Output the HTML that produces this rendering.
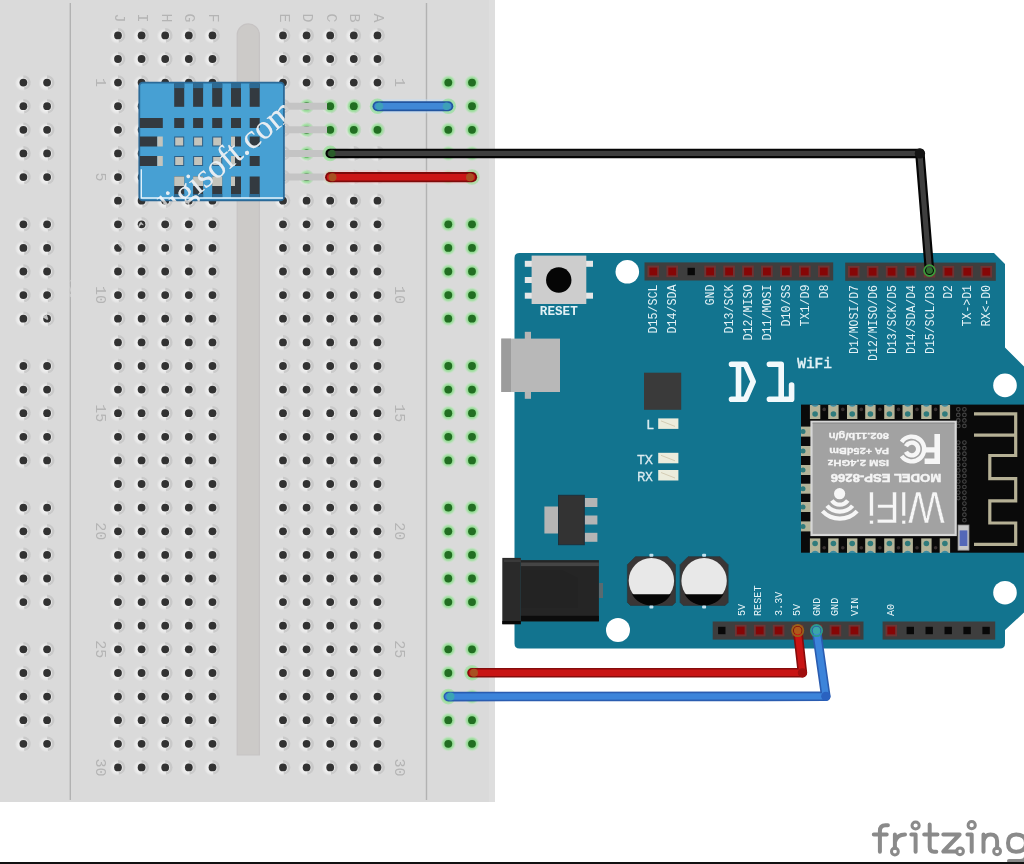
<!DOCTYPE html><html><head><meta charset="utf-8"><title>Fritzing D1 DHT11</title><style>
html,body{margin:0;padding:0;background:#ffffff;}
svg{display:block;}
.lb{font-family:"Liberation Mono",monospace;font-size:15px;fill:#b4b4b4;}
.mono{font-family:"Liberation Mono",monospace;fill:#e4f2f6;}
.sans{font-family:"Liberation Sans",sans-serif;fill:#dcecf0;}
.sansb{font-family:"Liberation Sans",sans-serif;font-weight:bold;fill:#f4f4f4;}
</style></head><body><svg width="1024" height="864" viewBox="0 0 1024 864"><defs>
<radialGradient id="hg" cx="0.45" cy="0.54" r="0.5">
<stop offset="0.4" stop-color="#f2f2f2" stop-opacity="1"/>
<stop offset="0.7" stop-color="#eaeaea" stop-opacity="0.75"/>
<stop offset="1" stop-color="#dadada" stop-opacity="0"/>
</radialGradient>
<radialGradient id="ggr" cx="0.5" cy="0.5" r="0.5">
<stop offset="0.4" stop-color="#7fd67f" stop-opacity="1"/>
<stop offset="0.7" stop-color="#a8dfa8" stop-opacity="0.9"/>
<stop offset="1" stop-color="#d0e8d0" stop-opacity="0"/>
</radialGradient>
<g id="h">
<circle cx="0" cy="0" r="8.6" fill="url(#hg)"/>
<path d="M0 -6 A6 6 0 0 1 0.8 5.95" fill="none" stroke="#c6c6c6" stroke-width="2.6" opacity="0.9"/>
<circle cx="0" cy="0" r="3.9" fill="#323232"/>
</g>
<g id="gh">
<circle cx="0" cy="0" r="8.2" fill="url(#ggr)"/>
<circle cx="0" cy="0" r="3.9" fill="#226e22"/>
</g>
</defs><rect width="1024" height="864" fill="#ffffff"/><rect x="0" y="0" width="495" height="802" fill="#dadada"/>
<rect x="489" y="0" width="6" height="802" fill="#dedede"/>
<line x1="70.3" y1="3" x2="70.3" y2="800" stroke="#b2b2b2" stroke-width="1.4"/>
<line x1="426.5" y1="3" x2="426.5" y2="800" stroke="#b2b2b2" stroke-width="1.4"/>
<path d="M237.2 755 V35 A11.1 11.1 0 0 1 259.4 35 V755 Z" fill="#cccac8" stroke="#c6c3c3" stroke-width="1.2"/>
<use href="#h" x="118.0" y="35.4"/>
<use href="#h" x="141.6" y="35.4"/>
<use href="#h" x="165.2" y="35.4"/>
<use href="#h" x="188.8" y="35.4"/>
<use href="#h" x="212.5" y="35.4"/>
<use href="#h" x="283.0" y="35.4"/>
<use href="#h" x="306.6" y="35.4"/>
<use href="#h" x="330.2" y="35.4"/>
<use href="#h" x="353.8" y="35.4"/>
<use href="#h" x="377.5" y="35.4"/>
<use href="#h" x="118.0" y="59.0"/>
<use href="#h" x="141.6" y="59.0"/>
<use href="#h" x="165.2" y="59.0"/>
<use href="#h" x="188.8" y="59.0"/>
<use href="#h" x="212.5" y="59.0"/>
<use href="#h" x="283.0" y="59.0"/>
<use href="#h" x="306.6" y="59.0"/>
<use href="#h" x="330.2" y="59.0"/>
<use href="#h" x="353.8" y="59.0"/>
<use href="#h" x="377.5" y="59.0"/>
<use href="#h" x="118.0" y="82.6"/>
<use href="#h" x="141.6" y="82.6"/>
<use href="#h" x="165.2" y="82.6"/>
<use href="#h" x="188.8" y="82.6"/>
<use href="#h" x="212.5" y="82.6"/>
<use href="#h" x="283.0" y="82.6"/>
<use href="#h" x="306.6" y="82.6"/>
<use href="#h" x="330.2" y="82.6"/>
<use href="#h" x="353.8" y="82.6"/>
<use href="#h" x="377.5" y="82.6"/>
<use href="#h" x="118.0" y="106.2"/>
<use href="#h" x="141.6" y="106.2"/>
<use href="#h" x="165.2" y="106.2"/>
<use href="#h" x="188.8" y="106.2"/>
<use href="#h" x="212.5" y="106.2"/>
<use href="#h" x="283.0" y="106.2"/>
<use href="#h" x="306.6" y="106.2"/>
<use href="#h" x="330.2" y="106.2"/>
<use href="#h" x="353.8" y="106.2"/>
<use href="#h" x="377.5" y="106.2"/>
<use href="#h" x="118.0" y="129.8"/>
<use href="#h" x="141.6" y="129.8"/>
<use href="#h" x="165.2" y="129.8"/>
<use href="#h" x="188.8" y="129.8"/>
<use href="#h" x="212.5" y="129.8"/>
<use href="#h" x="283.0" y="129.8"/>
<use href="#h" x="306.6" y="129.8"/>
<use href="#h" x="330.2" y="129.8"/>
<use href="#h" x="353.8" y="129.8"/>
<use href="#h" x="377.5" y="129.8"/>
<use href="#h" x="118.0" y="153.4"/>
<use href="#h" x="141.6" y="153.4"/>
<use href="#h" x="165.2" y="153.4"/>
<use href="#h" x="188.8" y="153.4"/>
<use href="#h" x="212.5" y="153.4"/>
<use href="#h" x="283.0" y="153.4"/>
<use href="#h" x="306.6" y="153.4"/>
<use href="#h" x="330.2" y="153.4"/>
<use href="#h" x="353.8" y="153.4"/>
<use href="#h" x="377.5" y="153.4"/>
<use href="#h" x="118.0" y="177.1"/>
<use href="#h" x="141.6" y="177.1"/>
<use href="#h" x="165.2" y="177.1"/>
<use href="#h" x="188.8" y="177.1"/>
<use href="#h" x="212.5" y="177.1"/>
<use href="#h" x="283.0" y="177.1"/>
<use href="#h" x="306.6" y="177.1"/>
<use href="#h" x="330.2" y="177.1"/>
<use href="#h" x="353.8" y="177.1"/>
<use href="#h" x="377.5" y="177.1"/>
<use href="#h" x="118.0" y="200.7"/>
<use href="#h" x="141.6" y="200.7"/>
<use href="#h" x="165.2" y="200.7"/>
<use href="#h" x="188.8" y="200.7"/>
<use href="#h" x="212.5" y="200.7"/>
<use href="#h" x="283.0" y="200.7"/>
<use href="#h" x="306.6" y="200.7"/>
<use href="#h" x="330.2" y="200.7"/>
<use href="#h" x="353.8" y="200.7"/>
<use href="#h" x="377.5" y="200.7"/>
<use href="#h" x="118.0" y="224.3"/>
<use href="#h" x="141.6" y="224.3"/>
<use href="#h" x="165.2" y="224.3"/>
<use href="#h" x="188.8" y="224.3"/>
<use href="#h" x="212.5" y="224.3"/>
<use href="#h" x="283.0" y="224.3"/>
<use href="#h" x="306.6" y="224.3"/>
<use href="#h" x="330.2" y="224.3"/>
<use href="#h" x="353.8" y="224.3"/>
<use href="#h" x="377.5" y="224.3"/>
<use href="#h" x="118.0" y="247.9"/>
<use href="#h" x="141.6" y="247.9"/>
<use href="#h" x="165.2" y="247.9"/>
<use href="#h" x="188.8" y="247.9"/>
<use href="#h" x="212.5" y="247.9"/>
<use href="#h" x="283.0" y="247.9"/>
<use href="#h" x="306.6" y="247.9"/>
<use href="#h" x="330.2" y="247.9"/>
<use href="#h" x="353.8" y="247.9"/>
<use href="#h" x="377.5" y="247.9"/>
<use href="#h" x="118.0" y="271.5"/>
<use href="#h" x="141.6" y="271.5"/>
<use href="#h" x="165.2" y="271.5"/>
<use href="#h" x="188.8" y="271.5"/>
<use href="#h" x="212.5" y="271.5"/>
<use href="#h" x="283.0" y="271.5"/>
<use href="#h" x="306.6" y="271.5"/>
<use href="#h" x="330.2" y="271.5"/>
<use href="#h" x="353.8" y="271.5"/>
<use href="#h" x="377.5" y="271.5"/>
<use href="#h" x="118.0" y="295.1"/>
<use href="#h" x="141.6" y="295.1"/>
<use href="#h" x="165.2" y="295.1"/>
<use href="#h" x="188.8" y="295.1"/>
<use href="#h" x="212.5" y="295.1"/>
<use href="#h" x="283.0" y="295.1"/>
<use href="#h" x="306.6" y="295.1"/>
<use href="#h" x="330.2" y="295.1"/>
<use href="#h" x="353.8" y="295.1"/>
<use href="#h" x="377.5" y="295.1"/>
<use href="#h" x="118.0" y="318.7"/>
<use href="#h" x="141.6" y="318.7"/>
<use href="#h" x="165.2" y="318.7"/>
<use href="#h" x="188.8" y="318.7"/>
<use href="#h" x="212.5" y="318.7"/>
<use href="#h" x="283.0" y="318.7"/>
<use href="#h" x="306.6" y="318.7"/>
<use href="#h" x="330.2" y="318.7"/>
<use href="#h" x="353.8" y="318.7"/>
<use href="#h" x="377.5" y="318.7"/>
<use href="#h" x="118.0" y="342.4"/>
<use href="#h" x="141.6" y="342.4"/>
<use href="#h" x="165.2" y="342.4"/>
<use href="#h" x="188.8" y="342.4"/>
<use href="#h" x="212.5" y="342.4"/>
<use href="#h" x="283.0" y="342.4"/>
<use href="#h" x="306.6" y="342.4"/>
<use href="#h" x="330.2" y="342.4"/>
<use href="#h" x="353.8" y="342.4"/>
<use href="#h" x="377.5" y="342.4"/>
<use href="#h" x="118.0" y="366.0"/>
<use href="#h" x="141.6" y="366.0"/>
<use href="#h" x="165.2" y="366.0"/>
<use href="#h" x="188.8" y="366.0"/>
<use href="#h" x="212.5" y="366.0"/>
<use href="#h" x="283.0" y="366.0"/>
<use href="#h" x="306.6" y="366.0"/>
<use href="#h" x="330.2" y="366.0"/>
<use href="#h" x="353.8" y="366.0"/>
<use href="#h" x="377.5" y="366.0"/>
<use href="#h" x="118.0" y="389.6"/>
<use href="#h" x="141.6" y="389.6"/>
<use href="#h" x="165.2" y="389.6"/>
<use href="#h" x="188.8" y="389.6"/>
<use href="#h" x="212.5" y="389.6"/>
<use href="#h" x="283.0" y="389.6"/>
<use href="#h" x="306.6" y="389.6"/>
<use href="#h" x="330.2" y="389.6"/>
<use href="#h" x="353.8" y="389.6"/>
<use href="#h" x="377.5" y="389.6"/>
<use href="#h" x="118.0" y="413.2"/>
<use href="#h" x="141.6" y="413.2"/>
<use href="#h" x="165.2" y="413.2"/>
<use href="#h" x="188.8" y="413.2"/>
<use href="#h" x="212.5" y="413.2"/>
<use href="#h" x="283.0" y="413.2"/>
<use href="#h" x="306.6" y="413.2"/>
<use href="#h" x="330.2" y="413.2"/>
<use href="#h" x="353.8" y="413.2"/>
<use href="#h" x="377.5" y="413.2"/>
<use href="#h" x="118.0" y="436.8"/>
<use href="#h" x="141.6" y="436.8"/>
<use href="#h" x="165.2" y="436.8"/>
<use href="#h" x="188.8" y="436.8"/>
<use href="#h" x="212.5" y="436.8"/>
<use href="#h" x="283.0" y="436.8"/>
<use href="#h" x="306.6" y="436.8"/>
<use href="#h" x="330.2" y="436.8"/>
<use href="#h" x="353.8" y="436.8"/>
<use href="#h" x="377.5" y="436.8"/>
<use href="#h" x="118.0" y="460.4"/>
<use href="#h" x="141.6" y="460.4"/>
<use href="#h" x="165.2" y="460.4"/>
<use href="#h" x="188.8" y="460.4"/>
<use href="#h" x="212.5" y="460.4"/>
<use href="#h" x="283.0" y="460.4"/>
<use href="#h" x="306.6" y="460.4"/>
<use href="#h" x="330.2" y="460.4"/>
<use href="#h" x="353.8" y="460.4"/>
<use href="#h" x="377.5" y="460.4"/>
<use href="#h" x="118.0" y="484.0"/>
<use href="#h" x="141.6" y="484.0"/>
<use href="#h" x="165.2" y="484.0"/>
<use href="#h" x="188.8" y="484.0"/>
<use href="#h" x="212.5" y="484.0"/>
<use href="#h" x="283.0" y="484.0"/>
<use href="#h" x="306.6" y="484.0"/>
<use href="#h" x="330.2" y="484.0"/>
<use href="#h" x="353.8" y="484.0"/>
<use href="#h" x="377.5" y="484.0"/>
<use href="#h" x="118.0" y="507.7"/>
<use href="#h" x="141.6" y="507.7"/>
<use href="#h" x="165.2" y="507.7"/>
<use href="#h" x="188.8" y="507.7"/>
<use href="#h" x="212.5" y="507.7"/>
<use href="#h" x="283.0" y="507.7"/>
<use href="#h" x="306.6" y="507.7"/>
<use href="#h" x="330.2" y="507.7"/>
<use href="#h" x="353.8" y="507.7"/>
<use href="#h" x="377.5" y="507.7"/>
<use href="#h" x="118.0" y="531.3"/>
<use href="#h" x="141.6" y="531.3"/>
<use href="#h" x="165.2" y="531.3"/>
<use href="#h" x="188.8" y="531.3"/>
<use href="#h" x="212.5" y="531.3"/>
<use href="#h" x="283.0" y="531.3"/>
<use href="#h" x="306.6" y="531.3"/>
<use href="#h" x="330.2" y="531.3"/>
<use href="#h" x="353.8" y="531.3"/>
<use href="#h" x="377.5" y="531.3"/>
<use href="#h" x="118.0" y="554.9"/>
<use href="#h" x="141.6" y="554.9"/>
<use href="#h" x="165.2" y="554.9"/>
<use href="#h" x="188.8" y="554.9"/>
<use href="#h" x="212.5" y="554.9"/>
<use href="#h" x="283.0" y="554.9"/>
<use href="#h" x="306.6" y="554.9"/>
<use href="#h" x="330.2" y="554.9"/>
<use href="#h" x="353.8" y="554.9"/>
<use href="#h" x="377.5" y="554.9"/>
<use href="#h" x="118.0" y="578.5"/>
<use href="#h" x="141.6" y="578.5"/>
<use href="#h" x="165.2" y="578.5"/>
<use href="#h" x="188.8" y="578.5"/>
<use href="#h" x="212.5" y="578.5"/>
<use href="#h" x="283.0" y="578.5"/>
<use href="#h" x="306.6" y="578.5"/>
<use href="#h" x="330.2" y="578.5"/>
<use href="#h" x="353.8" y="578.5"/>
<use href="#h" x="377.5" y="578.5"/>
<use href="#h" x="118.0" y="602.1"/>
<use href="#h" x="141.6" y="602.1"/>
<use href="#h" x="165.2" y="602.1"/>
<use href="#h" x="188.8" y="602.1"/>
<use href="#h" x="212.5" y="602.1"/>
<use href="#h" x="283.0" y="602.1"/>
<use href="#h" x="306.6" y="602.1"/>
<use href="#h" x="330.2" y="602.1"/>
<use href="#h" x="353.8" y="602.1"/>
<use href="#h" x="377.5" y="602.1"/>
<use href="#h" x="118.0" y="625.7"/>
<use href="#h" x="141.6" y="625.7"/>
<use href="#h" x="165.2" y="625.7"/>
<use href="#h" x="188.8" y="625.7"/>
<use href="#h" x="212.5" y="625.7"/>
<use href="#h" x="283.0" y="625.7"/>
<use href="#h" x="306.6" y="625.7"/>
<use href="#h" x="330.2" y="625.7"/>
<use href="#h" x="353.8" y="625.7"/>
<use href="#h" x="377.5" y="625.7"/>
<use href="#h" x="118.0" y="649.3"/>
<use href="#h" x="141.6" y="649.3"/>
<use href="#h" x="165.2" y="649.3"/>
<use href="#h" x="188.8" y="649.3"/>
<use href="#h" x="212.5" y="649.3"/>
<use href="#h" x="283.0" y="649.3"/>
<use href="#h" x="306.6" y="649.3"/>
<use href="#h" x="330.2" y="649.3"/>
<use href="#h" x="353.8" y="649.3"/>
<use href="#h" x="377.5" y="649.3"/>
<use href="#h" x="118.0" y="673.0"/>
<use href="#h" x="141.6" y="673.0"/>
<use href="#h" x="165.2" y="673.0"/>
<use href="#h" x="188.8" y="673.0"/>
<use href="#h" x="212.5" y="673.0"/>
<use href="#h" x="283.0" y="673.0"/>
<use href="#h" x="306.6" y="673.0"/>
<use href="#h" x="330.2" y="673.0"/>
<use href="#h" x="353.8" y="673.0"/>
<use href="#h" x="377.5" y="673.0"/>
<use href="#h" x="118.0" y="696.6"/>
<use href="#h" x="141.6" y="696.6"/>
<use href="#h" x="165.2" y="696.6"/>
<use href="#h" x="188.8" y="696.6"/>
<use href="#h" x="212.5" y="696.6"/>
<use href="#h" x="283.0" y="696.6"/>
<use href="#h" x="306.6" y="696.6"/>
<use href="#h" x="330.2" y="696.6"/>
<use href="#h" x="353.8" y="696.6"/>
<use href="#h" x="377.5" y="696.6"/>
<use href="#h" x="118.0" y="720.2"/>
<use href="#h" x="141.6" y="720.2"/>
<use href="#h" x="165.2" y="720.2"/>
<use href="#h" x="188.8" y="720.2"/>
<use href="#h" x="212.5" y="720.2"/>
<use href="#h" x="283.0" y="720.2"/>
<use href="#h" x="306.6" y="720.2"/>
<use href="#h" x="330.2" y="720.2"/>
<use href="#h" x="353.8" y="720.2"/>
<use href="#h" x="377.5" y="720.2"/>
<use href="#h" x="118.0" y="743.8"/>
<use href="#h" x="141.6" y="743.8"/>
<use href="#h" x="165.2" y="743.8"/>
<use href="#h" x="188.8" y="743.8"/>
<use href="#h" x="212.5" y="743.8"/>
<use href="#h" x="283.0" y="743.8"/>
<use href="#h" x="306.6" y="743.8"/>
<use href="#h" x="330.2" y="743.8"/>
<use href="#h" x="353.8" y="743.8"/>
<use href="#h" x="377.5" y="743.8"/>
<use href="#h" x="118.0" y="767.4"/>
<use href="#h" x="141.6" y="767.4"/>
<use href="#h" x="165.2" y="767.4"/>
<use href="#h" x="188.8" y="767.4"/>
<use href="#h" x="212.5" y="767.4"/>
<use href="#h" x="283.0" y="767.4"/>
<use href="#h" x="306.6" y="767.4"/>
<use href="#h" x="330.2" y="767.4"/>
<use href="#h" x="353.8" y="767.4"/>
<use href="#h" x="377.5" y="767.4"/>
<use href="#h" x="23.4" y="82.6"/>
<use href="#h" x="47.1" y="82.6"/>
<use href="#gh" x="448.3" y="82.6"/>
<use href="#gh" x="472.0" y="82.6"/>
<use href="#h" x="23.4" y="106.2"/>
<use href="#h" x="47.1" y="106.2"/>
<use href="#gh" x="448.3" y="106.2"/>
<use href="#gh" x="472.0" y="106.2"/>
<use href="#h" x="23.4" y="129.8"/>
<use href="#h" x="47.1" y="129.8"/>
<use href="#gh" x="448.3" y="129.8"/>
<use href="#gh" x="472.0" y="129.8"/>
<use href="#h" x="23.4" y="153.4"/>
<use href="#h" x="47.1" y="153.4"/>
<use href="#gh" x="448.3" y="153.4"/>
<use href="#gh" x="472.0" y="153.4"/>
<use href="#h" x="23.4" y="177.1"/>
<use href="#h" x="47.1" y="177.1"/>
<use href="#gh" x="448.3" y="177.1"/>
<use href="#gh" x="472.0" y="177.1"/>
<use href="#h" x="23.4" y="224.3"/>
<use href="#h" x="47.1" y="224.3"/>
<use href="#gh" x="448.3" y="224.3"/>
<use href="#gh" x="472.0" y="224.3"/>
<use href="#h" x="23.4" y="247.9"/>
<use href="#h" x="47.1" y="247.9"/>
<use href="#gh" x="448.3" y="247.9"/>
<use href="#gh" x="472.0" y="247.9"/>
<use href="#h" x="23.4" y="271.5"/>
<use href="#h" x="47.1" y="271.5"/>
<use href="#gh" x="448.3" y="271.5"/>
<use href="#gh" x="472.0" y="271.5"/>
<use href="#h" x="23.4" y="295.1"/>
<use href="#h" x="47.1" y="295.1"/>
<use href="#gh" x="448.3" y="295.1"/>
<use href="#gh" x="472.0" y="295.1"/>
<use href="#h" x="23.4" y="318.7"/>
<use href="#h" x="47.1" y="318.7"/>
<use href="#gh" x="448.3" y="318.7"/>
<use href="#gh" x="472.0" y="318.7"/>
<use href="#h" x="23.4" y="366.0"/>
<use href="#h" x="47.1" y="366.0"/>
<use href="#gh" x="448.3" y="366.0"/>
<use href="#gh" x="472.0" y="366.0"/>
<use href="#h" x="23.4" y="389.6"/>
<use href="#h" x="47.1" y="389.6"/>
<use href="#gh" x="448.3" y="389.6"/>
<use href="#gh" x="472.0" y="389.6"/>
<use href="#h" x="23.4" y="413.2"/>
<use href="#h" x="47.1" y="413.2"/>
<use href="#gh" x="448.3" y="413.2"/>
<use href="#gh" x="472.0" y="413.2"/>
<use href="#h" x="23.4" y="436.8"/>
<use href="#h" x="47.1" y="436.8"/>
<use href="#gh" x="448.3" y="436.8"/>
<use href="#gh" x="472.0" y="436.8"/>
<use href="#h" x="23.4" y="460.4"/>
<use href="#h" x="47.1" y="460.4"/>
<use href="#gh" x="448.3" y="460.4"/>
<use href="#gh" x="472.0" y="460.4"/>
<use href="#h" x="23.4" y="507.7"/>
<use href="#h" x="47.1" y="507.7"/>
<use href="#gh" x="448.3" y="507.7"/>
<use href="#gh" x="472.0" y="507.7"/>
<use href="#h" x="23.4" y="531.3"/>
<use href="#h" x="47.1" y="531.3"/>
<use href="#gh" x="448.3" y="531.3"/>
<use href="#gh" x="472.0" y="531.3"/>
<use href="#h" x="23.4" y="554.9"/>
<use href="#h" x="47.1" y="554.9"/>
<use href="#gh" x="448.3" y="554.9"/>
<use href="#gh" x="472.0" y="554.9"/>
<use href="#h" x="23.4" y="578.5"/>
<use href="#h" x="47.1" y="578.5"/>
<use href="#gh" x="448.3" y="578.5"/>
<use href="#gh" x="472.0" y="578.5"/>
<use href="#h" x="23.4" y="602.1"/>
<use href="#h" x="47.1" y="602.1"/>
<use href="#gh" x="448.3" y="602.1"/>
<use href="#gh" x="472.0" y="602.1"/>
<use href="#h" x="23.4" y="649.3"/>
<use href="#h" x="47.1" y="649.3"/>
<use href="#gh" x="448.3" y="649.3"/>
<use href="#gh" x="472.0" y="649.3"/>
<use href="#h" x="23.4" y="673.0"/>
<use href="#h" x="47.1" y="673.0"/>
<use href="#gh" x="448.3" y="673.0"/>
<use href="#gh" x="472.0" y="673.0"/>
<use href="#h" x="23.4" y="696.6"/>
<use href="#h" x="47.1" y="696.6"/>
<use href="#gh" x="448.3" y="696.6"/>
<use href="#gh" x="472.0" y="696.6"/>
<use href="#h" x="23.4" y="720.2"/>
<use href="#h" x="47.1" y="720.2"/>
<use href="#gh" x="448.3" y="720.2"/>
<use href="#gh" x="472.0" y="720.2"/>
<use href="#h" x="23.4" y="743.8"/>
<use href="#h" x="47.1" y="743.8"/>
<use href="#gh" x="448.3" y="743.8"/>
<use href="#gh" x="472.0" y="743.8"/>
<text transform="translate(118.0 18) rotate(90)" class="lb" text-anchor="middle" dominant-baseline="central">J</text>
<text transform="translate(141.6 18) rotate(90)" class="lb" text-anchor="middle" dominant-baseline="central">I</text>
<text transform="translate(165.2 18) rotate(90)" class="lb" text-anchor="middle" dominant-baseline="central">H</text>
<text transform="translate(188.8 18) rotate(90)" class="lb" text-anchor="middle" dominant-baseline="central">G</text>
<text transform="translate(212.5 18) rotate(90)" class="lb" text-anchor="middle" dominant-baseline="central">F</text>
<text transform="translate(283.0 18) rotate(90)" class="lb" text-anchor="middle" dominant-baseline="central">E</text>
<text transform="translate(306.6 18) rotate(90)" class="lb" text-anchor="middle" dominant-baseline="central">D</text>
<text transform="translate(330.2 18) rotate(90)" class="lb" text-anchor="middle" dominant-baseline="central">C</text>
<text transform="translate(353.8 18) rotate(90)" class="lb" text-anchor="middle" dominant-baseline="central">B</text>
<text transform="translate(377.5 18) rotate(90)" class="lb" text-anchor="middle" dominant-baseline="central">A</text>
<text transform="translate(99.8 82.6) rotate(90)" class="lb" text-anchor="middle" dominant-baseline="central">1</text>
<text transform="translate(398.7 82.6) rotate(90)" class="lb" text-anchor="middle" dominant-baseline="central">1</text>
<text transform="translate(99.8 177.1) rotate(90)" class="lb" text-anchor="middle" dominant-baseline="central">5</text>
<text transform="translate(398.7 177.1) rotate(90)" class="lb" text-anchor="middle" dominant-baseline="central">5</text>
<text transform="translate(99.8 295.1) rotate(90)" class="lb" text-anchor="middle" dominant-baseline="central">10</text>
<text transform="translate(398.7 295.1) rotate(90)" class="lb" text-anchor="middle" dominant-baseline="central">10</text>
<text transform="translate(99.8 413.2) rotate(90)" class="lb" text-anchor="middle" dominant-baseline="central">15</text>
<text transform="translate(398.7 413.2) rotate(90)" class="lb" text-anchor="middle" dominant-baseline="central">15</text>
<text transform="translate(99.8 531.3) rotate(90)" class="lb" text-anchor="middle" dominant-baseline="central">20</text>
<text transform="translate(398.7 531.3) rotate(90)" class="lb" text-anchor="middle" dominant-baseline="central">20</text>
<text transform="translate(99.8 649.3) rotate(90)" class="lb" text-anchor="middle" dominant-baseline="central">25</text>
<text transform="translate(398.7 649.3) rotate(90)" class="lb" text-anchor="middle" dominant-baseline="central">25</text>
<text transform="translate(99.8 767.4) rotate(90)" class="lb" text-anchor="middle" dominant-baseline="central">30</text>
<text transform="translate(398.7 767.4) rotate(90)" class="lb" text-anchor="middle" dominant-baseline="central">30</text>
<path d="M519.5 253 H994 L1005 264 V347.5 L1030 372.5 V607 L1005 630 V643.5 Q1005 648.5 1000 648.5 H519.5 Q514.5 648.5 514.5 643.5 V258 Q514.5 253 519.5 253 Z" fill="#12748f"/>
<circle cx="627.3" cy="271.8" r="11.8" fill="#ffffff"/>
<circle cx="1005" cy="385.4" r="11.8" fill="#ffffff"/>
<circle cx="1005" cy="592.7" r="11.8" fill="#ffffff"/>
<circle cx="618" cy="630" r="12" fill="#ffffff"/>
<rect x="524.8" y="260.8" width="8" height="6" fill="#e6e6e6"/>
<rect x="524.8" y="277" width="8" height="6" fill="#e6e6e6"/>
<rect x="524.8" y="292.7" width="8" height="6" fill="#e6e6e6"/>
<rect x="585" y="260.8" width="8" height="6" fill="#e6e6e6"/>
<rect x="585" y="292.7" width="8" height="6" fill="#e6e6e6"/>
<rect x="531.6" y="255.6" width="54.7" height="48.4" fill="#cdcdcd"/>
<circle cx="558.75" cy="280" r="12.7" fill="#050505"/>
<text x="558.8" y="314.6" class="mono" font-size="12.8" font-weight="bold" text-anchor="middle" textLength="38" lengthAdjust="spacingAndGlyphs">RESET</text>
<rect x="524.8" y="331.8" width="6.2" height="67" fill="#b5b5b5"/>
<rect x="501.3" y="338.6" width="58.7" height="53.4" fill="#b8b8b8"/>
<rect x="501.3" y="338.6" width="9.7" height="53.4" fill="#9c9c9c"/>
<rect x="644.5" y="262.4" width="188.7" height="18.1" fill="#3e3e3e"/>
<rect x="647.5" y="265.6" width="11.6" height="11.6" fill="#6e3434"/>
<rect x="649.4" y="267.6" width="7.8" height="7.8" fill="#860606"/>
<rect x="666.4" y="265.6" width="11.6" height="11.6" fill="#6e3434"/>
<rect x="668.3" y="267.6" width="7.8" height="7.8" fill="#860606"/>
<rect x="687.5" y="267.8" width="7.4" height="7.4" fill="#080808"/>
<rect x="704.3" y="265.6" width="11.6" height="11.6" fill="#6e3434"/>
<rect x="706.2" y="267.6" width="7.8" height="7.8" fill="#860606"/>
<rect x="723.3" y="265.6" width="11.6" height="11.6" fill="#6e3434"/>
<rect x="725.2" y="267.6" width="7.8" height="7.8" fill="#860606"/>
<rect x="742.2" y="265.6" width="11.6" height="11.6" fill="#6e3434"/>
<rect x="744.1" y="267.6" width="7.8" height="7.8" fill="#860606"/>
<rect x="761.1" y="265.6" width="11.6" height="11.6" fill="#6e3434"/>
<rect x="763.0" y="267.6" width="7.8" height="7.8" fill="#860606"/>
<rect x="780.1" y="265.6" width="11.6" height="11.6" fill="#6e3434"/>
<rect x="782.0" y="267.6" width="7.8" height="7.8" fill="#860606"/>
<rect x="799.0" y="265.6" width="11.6" height="11.6" fill="#6e3434"/>
<rect x="800.9" y="267.6" width="7.8" height="7.8" fill="#860606"/>
<rect x="818.0" y="265.6" width="11.6" height="11.6" fill="#6e3434"/>
<rect x="819.9" y="267.6" width="7.8" height="7.8" fill="#860606"/>
<rect x="845.2" y="262.6" width="150.6" height="18.2" fill="#3e3e3e"/>
<rect x="847.9" y="265.9" width="11.6" height="11.6" fill="#6e3434"/>
<rect x="849.8" y="267.8" width="7.8" height="7.8" fill="#860606"/>
<rect x="866.8" y="265.9" width="11.6" height="11.6" fill="#6e3434"/>
<rect x="868.7" y="267.8" width="7.8" height="7.8" fill="#860606"/>
<rect x="885.8" y="265.9" width="11.6" height="11.6" fill="#6e3434"/>
<rect x="887.7" y="267.8" width="7.8" height="7.8" fill="#860606"/>
<rect x="904.7" y="265.9" width="11.6" height="11.6" fill="#6e3434"/>
<rect x="906.6" y="267.8" width="7.8" height="7.8" fill="#860606"/>
<rect x="923.7" y="265.9" width="11.6" height="11.6" fill="#6e3434"/>
<rect x="925.6" y="267.8" width="7.8" height="7.8" fill="#860606"/>
<rect x="942.6" y="265.9" width="11.6" height="11.6" fill="#6e3434"/>
<rect x="944.5" y="267.8" width="7.8" height="7.8" fill="#860606"/>
<rect x="961.5" y="265.9" width="11.6" height="11.6" fill="#6e3434"/>
<rect x="963.4" y="267.8" width="7.8" height="7.8" fill="#860606"/>
<rect x="980.5" y="265.9" width="11.6" height="11.6" fill="#6e3434"/>
<rect x="982.4" y="267.8" width="7.8" height="7.8" fill="#860606"/>
<rect x="712.7" y="621.5" width="150.8" height="18.1" fill="#3e3e3e"/>
<rect x="718.1" y="626.8" width="7.4" height="7.4" fill="#080808"/>
<rect x="734.9" y="624.8" width="11.6" height="11.6" fill="#6e3434"/>
<rect x="736.8" y="626.6" width="7.8" height="7.8" fill="#860606"/>
<rect x="753.9" y="624.8" width="11.6" height="11.6" fill="#6e3434"/>
<rect x="755.8" y="626.6" width="7.8" height="7.8" fill="#860606"/>
<rect x="772.8" y="624.8" width="11.6" height="11.6" fill="#6e3434"/>
<rect x="774.7" y="626.6" width="7.8" height="7.8" fill="#860606"/>
<rect x="791.8" y="624.8" width="11.6" height="11.6" fill="#6e3434"/>
<rect x="793.7" y="626.6" width="7.8" height="7.8" fill="#860606"/>
<rect x="810.7" y="624.8" width="11.6" height="11.6" fill="#6e3434"/>
<rect x="812.6" y="626.6" width="7.8" height="7.8" fill="#860606"/>
<rect x="829.6" y="624.8" width="11.6" height="11.6" fill="#6e3434"/>
<rect x="831.5" y="626.6" width="7.8" height="7.8" fill="#860606"/>
<rect x="848.6" y="624.8" width="11.6" height="11.6" fill="#6e3434"/>
<rect x="850.5" y="626.6" width="7.8" height="7.8" fill="#860606"/>
<rect x="882.6" y="621.5" width="112.6" height="18.1" fill="#3e3e3e"/>
<rect x="885.5" y="624.8" width="11.6" height="11.6" fill="#6e3434"/>
<rect x="887.4" y="626.6" width="7.8" height="7.8" fill="#860606"/>
<rect x="906.6" y="626.8" width="7.4" height="7.4" fill="#080808"/>
<rect x="925.5" y="626.8" width="7.4" height="7.4" fill="#080808"/>
<rect x="944.5" y="626.8" width="7.4" height="7.4" fill="#080808"/>
<rect x="963.4" y="626.8" width="7.4" height="7.4" fill="#080808"/>
<rect x="982.4" y="626.8" width="7.4" height="7.4" fill="#080808"/>
<text transform="translate(654.1 284.5) rotate(-90)" class="mono" font-size="12.5" text-anchor="end" dominant-baseline="central" textLength="49.0" lengthAdjust="spacingAndGlyphs">D15/SCL</text>
<text transform="translate(673.0 284.5) rotate(-90)" class="mono" font-size="12.5" text-anchor="end" dominant-baseline="central" textLength="49.0" lengthAdjust="spacingAndGlyphs">D14/SDA</text>
<text transform="translate(710.9 284.5) rotate(-90)" class="mono" font-size="12.5" text-anchor="end" dominant-baseline="central" textLength="21.0" lengthAdjust="spacingAndGlyphs">GND</text>
<text transform="translate(729.9 284.5) rotate(-90)" class="mono" font-size="12.5" text-anchor="end" dominant-baseline="central" textLength="49.0" lengthAdjust="spacingAndGlyphs">D13/SCK</text>
<text transform="translate(748.8 284.5) rotate(-90)" class="mono" font-size="12.5" text-anchor="end" dominant-baseline="central" textLength="56.0" lengthAdjust="spacingAndGlyphs">D12/MISO</text>
<text transform="translate(767.7 284.5) rotate(-90)" class="mono" font-size="12.5" text-anchor="end" dominant-baseline="central" textLength="56.0" lengthAdjust="spacingAndGlyphs">D11/MOSI</text>
<text transform="translate(786.7 284.5) rotate(-90)" class="mono" font-size="12.5" text-anchor="end" dominant-baseline="central" textLength="42.0" lengthAdjust="spacingAndGlyphs">D10/SS</text>
<text transform="translate(805.6 284.5) rotate(-90)" class="mono" font-size="12.5" text-anchor="end" dominant-baseline="central" textLength="42.0" lengthAdjust="spacingAndGlyphs">TX1/D9</text>
<text transform="translate(824.6 284.5) rotate(-90)" class="mono" font-size="12.5" text-anchor="end" dominant-baseline="central" textLength="14.0" lengthAdjust="spacingAndGlyphs">D8</text>
<text transform="translate(854.7 285) rotate(-90)" class="mono" font-size="12" text-anchor="end" dominant-baseline="central" textLength="69.0" lengthAdjust="spacingAndGlyphs">D1/MOSI/D7</text>
<text transform="translate(873.6 285) rotate(-90)" class="mono" font-size="12" text-anchor="end" dominant-baseline="central" textLength="75.9" lengthAdjust="spacingAndGlyphs">D12/MISO/D6</text>
<text transform="translate(892.6 285) rotate(-90)" class="mono" font-size="12" text-anchor="end" dominant-baseline="central" textLength="69.0" lengthAdjust="spacingAndGlyphs">D13/SCK/D5</text>
<text transform="translate(911.5 285) rotate(-90)" class="mono" font-size="12" text-anchor="end" dominant-baseline="central" textLength="69.0" lengthAdjust="spacingAndGlyphs">D14/SDA/D4</text>
<text transform="translate(930.5 285) rotate(-90)" class="mono" font-size="12" text-anchor="end" dominant-baseline="central" textLength="69.0" lengthAdjust="spacingAndGlyphs">D15/SCL/D3</text>
<text transform="translate(949.4 285) rotate(-90)" class="mono" font-size="12" text-anchor="end" dominant-baseline="central" textLength="13.8" lengthAdjust="spacingAndGlyphs">D2</text>
<text transform="translate(968.3 285) rotate(-90)" class="mono" font-size="12" text-anchor="end" dominant-baseline="central" textLength="41.4" lengthAdjust="spacingAndGlyphs">TX-&gt;D1</text>
<text transform="translate(987.3 285) rotate(-90)" class="mono" font-size="12" text-anchor="end" dominant-baseline="central" textLength="41.4" lengthAdjust="spacingAndGlyphs">RX&lt;-D0</text>
<text transform="translate(742.0 616) rotate(-90)" class="mono" font-size="10.5" text-anchor="start" dominant-baseline="central" textLength="12.2" lengthAdjust="spacingAndGlyphs">5V</text>
<text transform="translate(758.2 616) rotate(-90)" class="mono" font-size="10.5" text-anchor="start" dominant-baseline="central" textLength="30.5" lengthAdjust="spacingAndGlyphs">RESET</text>
<text transform="translate(778.9 616) rotate(-90)" class="mono" font-size="10.5" text-anchor="start" dominant-baseline="central" textLength="24.4" lengthAdjust="spacingAndGlyphs">3.3V</text>
<text transform="translate(797.3 616) rotate(-90)" class="mono" font-size="10.5" text-anchor="start" dominant-baseline="central" textLength="12.2" lengthAdjust="spacingAndGlyphs">5V</text>
<text transform="translate(816.7 616) rotate(-90)" class="mono" font-size="10.5" text-anchor="start" dominant-baseline="central" textLength="18.3" lengthAdjust="spacingAndGlyphs">GND</text>
<text transform="translate(835.1 616) rotate(-90)" class="mono" font-size="10.5" text-anchor="start" dominant-baseline="central" textLength="18.3" lengthAdjust="spacingAndGlyphs">GND</text>
<text transform="translate(854.5 616) rotate(-90)" class="mono" font-size="10.5" text-anchor="start" dominant-baseline="central" textLength="18.3" lengthAdjust="spacingAndGlyphs">VIN</text>
<text transform="translate(891.4 616) rotate(-90)" class="mono" font-size="10.5" text-anchor="start" dominant-baseline="central" textLength="12.2" lengthAdjust="spacingAndGlyphs">A0</text>
<rect x="644" y="372.7" width="37.2" height="37.1" fill="#3a3a3a"/>
<rect x="658.2" y="418.4" width="20.2" height="10.5" fill="#ececdc"/>
<line x1="661" y1="420.9" x2="675" y2="426.4" stroke="#d4ccb4" stroke-width="1"/>
<rect x="658.2" y="452.8" width="20.2" height="10.5" fill="#ececdc"/>
<line x1="661" y1="455.3" x2="675" y2="460.8" stroke="#d4ccb4" stroke-width="1"/>
<rect x="658.2" y="470" width="20.2" height="10.5" fill="#ececdc"/>
<line x1="661" y1="472.5" x2="675" y2="478" stroke="#d4ccb4" stroke-width="1"/>
<text x="650.2" y="428.6" class="sans" font-size="12.5" stroke="#dcecf0" stroke-width="0.4" text-anchor="middle">L</text>
<text x="645" y="463.8" class="sans" font-size="12.8" stroke="#dcecf0" stroke-width="0.4" text-anchor="middle" textLength="15.5" lengthAdjust="spacingAndGlyphs">TX</text>
<text x="645" y="481" class="sans" font-size="12.8" stroke="#dcecf0" stroke-width="0.4" text-anchor="middle" textLength="15.5" lengthAdjust="spacingAndGlyphs">RX</text>
<path d="M731.5 364.3 H745.5 L753.2 381.6 L745.5 399.2 H731.5 M738.5 364.3 V399.2" fill="none" stroke="#f2f9fb" stroke-width="5.6" stroke-linejoin="round" stroke-linecap="round"/>
<path d="M769.4 364.3 H781.2 V399.2 M769.4 399.2 H791.6 V385" fill="none" stroke="#f2f9fb" stroke-width="5.6" stroke-linejoin="round" stroke-linecap="round"/>
<text x="814.6" y="367.6" font-family="Liberation Mono" font-size="14.5" fill="#e2f2f6" stroke="#e2f2f6" stroke-width="0.5" text-anchor="middle" textLength="34.7" lengthAdjust="spacingAndGlyphs">WiFi</text>
<rect x="544.4" y="506.5" width="14.1" height="27" fill="#b5b5b5"/>
<rect x="584.3" y="498.0" width="13.1" height="9" fill="#b5b5b5"/>
<rect x="584.3" y="515.5" width="13.1" height="9" fill="#b5b5b5"/>
<rect x="584.3" y="532.8" width="13.1" height="9" fill="#b5b5b5"/>
<rect x="558.5" y="495.3" width="25.8" height="49.4" fill="#333333" stroke="#1f2f3a" stroke-width="1"/>
<rect x="599" y="583" width="4" height="15" fill="#5a6a70"/>
<rect x="520.8" y="560.1" width="78.1" height="61.2" fill="#252525"/>
<rect x="521" y="562.5" width="77.9" height="3.6" fill="#454545"/>
<path d="M521 570 H562 L578 578 V608 H521 Z" fill="#232323"/>
<rect x="520.8" y="615.8" width="78.1" height="5.5" fill="#0c0c0c"/>
<rect x="502.3" y="557.9" width="18.5" height="66.3" fill="#2a2a2a"/>
<rect x="502.3" y="621" width="18.5" height="3.2" fill="#080808"/>
<rect x="504" y="559.5" width="16.8" height="2.5" fill="#3a3a3a"/>
<path d="M635.4 556.7 H667.4 L675.4 564.7 V602.4 L672.4 605.4 H630.4 L627.4 602.4 V564.7 Z" fill="#3a3636" stroke="#2a3a40" stroke-width="0.8"/>
<circle cx="651.4" cy="580.7" r="22.7" fill="#e8e8e8"/>
<path d="M631.9 594.3 H670.9 A22.7 22.7 0 0 1 631.9 594.3 Z" fill="#050505"/>
<rect x="649.4" y="553.8" width="4" height="3" rx="1" fill="#c0e2f0"/>
<rect x="649.4" y="605.4" width="4" height="3" rx="1" fill="#c0e2f0"/>
<path d="M688.1 556.7 H720.1 L728.1 564.7 V602.4 L725.1 605.4 H683.1 L680.1 602.4 V564.7 Z" fill="#3a3636" stroke="#2a3a40" stroke-width="0.8"/>
<circle cx="704.1" cy="580.7" r="22.7" fill="#e8e8e8"/>
<path d="M684.6 594.3 H723.6 A22.7 22.7 0 0 1 684.6 594.3 Z" fill="#050505"/>
<rect x="702.1" y="553.8" width="4" height="3" rx="1" fill="#c0e2f0"/>
<rect x="702.1" y="605.4" width="4" height="3" rx="1" fill="#c0e2f0"/>
<rect x="801" y="404.6" width="230" height="148.1" fill="#0a0a0a"/>
<rect x="809.9" y="405" width="10.4" height="14.0" fill="#b3b398"/>
<circle cx="815.1" cy="414" r="2.8" fill="#2f7b7c"/>
<rect x="809.9" y="538.4" width="10.4" height="14.6" fill="#b3b398"/>
<circle cx="815.1" cy="543.5" r="2.8" fill="#2f7b7c"/>
<path d="M811.1 404.6 Q815.1 409 819.1 404.6 Z" fill="#3a8aa0"/>
<path d="M811.1 553 Q815.1 548.6 819.1 553 Z" fill="#3a8aa0"/>
<circle cx="824.2" cy="409.4" r="1.8" fill="#3a3232"/>
<circle cx="824.2" cy="547.8" r="1.8" fill="#3a3232"/>
<rect x="828.2" y="405" width="10.4" height="14.0" fill="#b3b398"/>
<circle cx="833.4" cy="414" r="2.8" fill="#2f7b7c"/>
<rect x="828.2" y="538.4" width="10.4" height="14.6" fill="#b3b398"/>
<circle cx="833.4" cy="543.5" r="2.8" fill="#2f7b7c"/>
<path d="M829.4 404.6 Q833.4 409 837.4 404.6 Z" fill="#3a8aa0"/>
<path d="M829.4 553 Q833.4 548.6 837.4 553 Z" fill="#3a8aa0"/>
<circle cx="842.8" cy="409.4" r="1.8" fill="#3a3232"/>
<circle cx="842.8" cy="547.8" r="1.8" fill="#3a3232"/>
<rect x="847.0" y="405" width="10.4" height="14.0" fill="#b3b398"/>
<circle cx="852.2" cy="414" r="2.8" fill="#2f7b7c"/>
<rect x="847.0" y="538.4" width="10.4" height="14.6" fill="#b3b398"/>
<circle cx="852.2" cy="543.5" r="2.8" fill="#2f7b7c"/>
<path d="M848.2 404.6 Q852.2 409 856.2 404.6 Z" fill="#3a8aa0"/>
<path d="M848.2 553 Q852.2 548.6 856.2 553 Z" fill="#3a8aa0"/>
<circle cx="861.3" cy="409.4" r="1.8" fill="#3a3232"/>
<circle cx="861.3" cy="547.8" r="1.8" fill="#3a3232"/>
<rect x="865.2" y="405" width="10.4" height="14.0" fill="#b3b398"/>
<circle cx="870.4" cy="414" r="2.8" fill="#2f7b7c"/>
<rect x="865.2" y="538.4" width="10.4" height="14.6" fill="#b3b398"/>
<circle cx="870.4" cy="543.5" r="2.8" fill="#2f7b7c"/>
<path d="M866.4 404.6 Q870.4 409 874.4 404.6 Z" fill="#3a8aa0"/>
<path d="M866.4 553 Q870.4 548.6 874.4 553 Z" fill="#3a8aa0"/>
<circle cx="879.9" cy="409.4" r="1.8" fill="#3a3232"/>
<circle cx="879.9" cy="547.8" r="1.8" fill="#3a3232"/>
<rect x="884.2" y="405" width="10.4" height="14.0" fill="#b3b398"/>
<circle cx="889.4" cy="414" r="2.8" fill="#2f7b7c"/>
<rect x="884.2" y="538.4" width="10.4" height="14.6" fill="#b3b398"/>
<circle cx="889.4" cy="543.5" r="2.8" fill="#2f7b7c"/>
<path d="M885.4 404.6 Q889.4 409 893.4 404.6 Z" fill="#3a8aa0"/>
<path d="M885.4 553 Q889.4 548.6 893.4 553 Z" fill="#3a8aa0"/>
<circle cx="898.5" cy="409.4" r="1.8" fill="#3a3232"/>
<circle cx="898.5" cy="547.8" r="1.8" fill="#3a3232"/>
<rect x="902.5" y="405" width="10.4" height="14.0" fill="#b3b398"/>
<circle cx="907.7" cy="414" r="2.8" fill="#2f7b7c"/>
<rect x="902.5" y="538.4" width="10.4" height="14.6" fill="#b3b398"/>
<circle cx="907.7" cy="543.5" r="2.8" fill="#2f7b7c"/>
<path d="M903.7 404.6 Q907.7 409 911.7 404.6 Z" fill="#3a8aa0"/>
<path d="M903.7 553 Q907.7 548.6 911.7 553 Z" fill="#3a8aa0"/>
<circle cx="917.0" cy="409.4" r="1.8" fill="#3a3232"/>
<circle cx="917.0" cy="547.8" r="1.8" fill="#3a3232"/>
<rect x="921.2" y="405" width="10.4" height="14.0" fill="#b3b398"/>
<circle cx="926.4" cy="414" r="2.8" fill="#2f7b7c"/>
<rect x="921.2" y="538.4" width="10.4" height="14.6" fill="#b3b398"/>
<circle cx="926.4" cy="543.5" r="2.8" fill="#2f7b7c"/>
<path d="M922.4 404.6 Q926.4 409 930.4 404.6 Z" fill="#3a8aa0"/>
<path d="M922.4 553 Q926.4 548.6 930.4 553 Z" fill="#3a8aa0"/>
<circle cx="935.6" cy="409.4" r="1.8" fill="#3a3232"/>
<circle cx="935.6" cy="547.8" r="1.8" fill="#3a3232"/>
<rect x="939.7" y="405" width="10.4" height="14.0" fill="#b3b398"/>
<circle cx="944.9" cy="414" r="2.8" fill="#2f7b7c"/>
<rect x="939.7" y="538.4" width="10.4" height="14.6" fill="#b3b398"/>
<circle cx="944.9" cy="543.5" r="2.8" fill="#2f7b7c"/>
<path d="M940.9 404.6 Q944.9 409 948.9 404.6 Z" fill="#3a8aa0"/>
<path d="M940.9 553 Q944.9 548.6 948.9 553 Z" fill="#3a8aa0"/>
<rect x="801" y="426.6" width="10" height="10" fill="#b3b398"/>
<circle cx="803" cy="431.6" r="2.5" fill="#2f7b7c"/>
<rect x="801" y="446" width="10" height="10" fill="#b3b398"/>
<circle cx="803" cy="451" r="2.5" fill="#2f7b7c"/>
<rect x="801" y="465" width="10" height="10" fill="#b3b398"/>
<circle cx="803" cy="470" r="2.5" fill="#2f7b7c"/>
<rect x="801" y="483.7" width="10" height="10" fill="#b3b398"/>
<circle cx="803" cy="488.7" r="2.5" fill="#2f7b7c"/>
<rect x="801" y="502" width="10" height="10" fill="#b3b398"/>
<circle cx="803" cy="507" r="2.5" fill="#2f7b7c"/>
<rect x="801" y="521.4" width="10" height="10" fill="#b3b398"/>
<circle cx="803" cy="526.4" r="2.5" fill="#2f7b7c"/>
<circle cx="958.3" cy="409.3" r="1.8" fill="none" stroke="#454545" stroke-width="1.1"/>
<circle cx="964.4" cy="409.3" r="1.8" fill="none" stroke="#454545" stroke-width="1.1"/>
<circle cx="958.3" cy="414.9" r="1.8" fill="none" stroke="#454545" stroke-width="1.1"/>
<circle cx="964.4" cy="414.9" r="1.8" fill="none" stroke="#454545" stroke-width="1.1"/>
<circle cx="958.3" cy="420.4" r="1.8" fill="none" stroke="#454545" stroke-width="1.1"/>
<circle cx="964.4" cy="420.4" r="1.8" fill="none" stroke="#454545" stroke-width="1.1"/>
<circle cx="958.3" cy="425.9" r="1.8" fill="none" stroke="#454545" stroke-width="1.1"/>
<circle cx="964.4" cy="425.9" r="1.8" fill="none" stroke="#454545" stroke-width="1.1"/>
<circle cx="958.3" cy="442.6" r="1.8" fill="none" stroke="#454545" stroke-width="1.1"/>
<circle cx="964.4" cy="442.6" r="1.8" fill="none" stroke="#454545" stroke-width="1.1"/>
<circle cx="958.3" cy="448.2" r="1.8" fill="none" stroke="#454545" stroke-width="1.1"/>
<circle cx="964.4" cy="448.2" r="1.8" fill="none" stroke="#454545" stroke-width="1.1"/>
<circle cx="958.3" cy="453.7" r="1.8" fill="none" stroke="#454545" stroke-width="1.1"/>
<circle cx="964.4" cy="453.7" r="1.8" fill="none" stroke="#454545" stroke-width="1.1"/>
<circle cx="958.3" cy="459.2" r="1.8" fill="none" stroke="#454545" stroke-width="1.1"/>
<circle cx="964.4" cy="459.2" r="1.8" fill="none" stroke="#454545" stroke-width="1.1"/>
<circle cx="958.3" cy="464.8" r="1.8" fill="none" stroke="#454545" stroke-width="1.1"/>
<circle cx="964.4" cy="464.8" r="1.8" fill="none" stroke="#454545" stroke-width="1.1"/>
<circle cx="958.3" cy="470.4" r="1.8" fill="none" stroke="#454545" stroke-width="1.1"/>
<circle cx="964.4" cy="470.4" r="1.8" fill="none" stroke="#454545" stroke-width="1.1"/>
<circle cx="958.3" cy="475.9" r="1.8" fill="none" stroke="#454545" stroke-width="1.1"/>
<circle cx="964.4" cy="475.9" r="1.8" fill="none" stroke="#454545" stroke-width="1.1"/>
<circle cx="958.3" cy="481.5" r="1.8" fill="none" stroke="#454545" stroke-width="1.1"/>
<circle cx="964.4" cy="481.5" r="1.8" fill="none" stroke="#454545" stroke-width="1.1"/>
<circle cx="958.3" cy="487.0" r="1.8" fill="none" stroke="#454545" stroke-width="1.1"/>
<circle cx="964.4" cy="487.0" r="1.8" fill="none" stroke="#454545" stroke-width="1.1"/>
<circle cx="958.3" cy="492.6" r="1.8" fill="none" stroke="#454545" stroke-width="1.1"/>
<circle cx="964.4" cy="492.6" r="1.8" fill="none" stroke="#454545" stroke-width="1.1"/>
<circle cx="958.3" cy="498.1" r="1.8" fill="none" stroke="#454545" stroke-width="1.1"/>
<circle cx="964.4" cy="498.1" r="1.8" fill="none" stroke="#454545" stroke-width="1.1"/>
<circle cx="964.4" cy="503.6" r="1.8" fill="none" stroke="#454545" stroke-width="1.1"/>
<circle cx="964.4" cy="509.1" r="1.8" fill="none" stroke="#454545" stroke-width="1.1"/>
<circle cx="964.4" cy="514.7" r="1.8" fill="none" stroke="#454545" stroke-width="1.1"/>
<circle cx="964.4" cy="520.2" r="1.8" fill="none" stroke="#454545" stroke-width="1.1"/>
<path d="M974 413.9 H1015.7 V455.5 H989.8 V478.6 H1015.7 V500.8 H989.8 V523 H1015.7 V544.3 H974 M974 435.2 H1015.7" fill="none" stroke="#b5b095" stroke-width="3.2"/>
<rect x="958" y="525" width="11" height="25.2" fill="#c8c8c8" stroke="#888" stroke-width="0.8"/>
<rect x="959.6" y="530.4" width="7.8" height="15.6" fill="#5468b8"/>
<rect x="811.5" y="421.8" width="144.2" height="113.2" fill="#a2a2a2" stroke="#d6d6d6" stroke-width="2.2"/><line x1="812.6" y1="423.2" x2="954.5" y2="423.2" stroke="#8e8e8e" stroke-width="1.2"/>
<g transform="rotate(180 883.6 479.15)">
<text x="822.5" y="466.3" font-family="Liberation Sans" font-size="45" fill="#f6f6f6" stroke="#a2a2a2" stroke-width="0.4" textLength="77.5" lengthAdjust="spacingAndGlyphs">WiFi</text>
<text x="826" y="484.3" class="sansb" font-size="11.8" stroke="#f6f6f6" stroke-width="0.5" textLength="110.5" lengthAdjust="spacingAndGlyphs">MODEL  ESP-8266</text>
<text x="878.2" y="497.9" class="sansb" font-size="9.6" stroke="#f6f6f6" stroke-width="0.3" textLength="61.3" lengthAdjust="spacingAndGlyphs">ISM 2.4GHz</text>
<text x="878.2" y="510.8" class="sansb" font-size="9.6" stroke="#f6f6f6" stroke-width="0.3" textLength="59.8" lengthAdjust="spacingAndGlyphs">PA +25dBm</text>
<text x="878.2" y="525.1" class="sansb" font-size="9.6" stroke="#f6f6f6" stroke-width="0.3" textLength="60.5" lengthAdjust="spacingAndGlyphs">802.11b/g/n</text>
</g>
<path d="M934.4 434 H940 V464.1 H924.6 V458.5 H934.4 V452.4 H925.3 V447.2 H934.4 Z" fill="#f6f6f6"/>
<path d="M899.84 440.63 A14.6 14.6 0 1 1 899.84 457.37 L903.44 454.85 A10.2 10.2 0 1 0 903.44 443.15 Z" fill="#f6f6f6"/>
<path d="M904.01 445.37 A8.6 8.6 0 1 1 904.01 452.63 L907.99 450.77 A4.2 4.2 0 1 0 907.99 447.23 Z" fill="#f6f6f6"/>
<circle cx="839.6" cy="493.7" r="5.6" fill="#f6f6f6"/>
<path d="M849.47 501.77 A11.8 11.8 0 0 1 830.13 501.77 L833.57 499.36 A7.6 7.6 0 0 0 846.03 499.36 Z" fill="#f6f6f6"/>
<path d="M854.20 507.08 A18.8 18.8 0 0 1 825.40 507.08 L828.62 504.38 A14.6 14.6 0 0 0 850.98 504.38 Z" fill="#f6f6f6"/>
<path d="M858.67 512.60 A25.8 25.8 0 0 1 820.93 512.60 L824.00 509.73 A21.6 21.6 0 0 0 855.60 509.73 Z" fill="#f6f6f6"/>
<use href="#gh" x="353.8" y="106.2"/>
<use href="#gh" x="377.5" y="106.2"/>
<use href="#gh" x="353.8" y="129.8"/>
<use href="#gh" x="377.5" y="129.8"/>
<use href="#gh" x="306.6" y="106.2"/>
<use href="#gh" x="330.2" y="106.2"/>
<use href="#gh" x="306.6" y="129.8"/>
<use href="#gh" x="330.2" y="129.8"/>
<use href="#gh" x="306.6" y="153.4"/>
<use href="#gh" x="330.2" y="153.4"/>
<use href="#gh" x="306.6" y="177.1"/>
<use href="#gh" x="330.2" y="177.1"/>
<line x1="282" y1="106.2" x2="327" y2="106.2" stroke="#c4c4c4" stroke-width="7"/>
<line x1="282" y1="129.8" x2="327" y2="129.8" stroke="#c4c4c4" stroke-width="7"/>
<line x1="282" y1="153.4" x2="327" y2="153.4" stroke="#c4c4c4" stroke-width="7"/>
<line x1="282" y1="177.1" x2="327" y2="177.1" stroke="#c4c4c4" stroke-width="7"/>
<rect x="139.3" y="82.7" width="144.6" height="117.6" rx="3.5" fill="#47a0d3" stroke="#2b6a98" stroke-width="1.8"/>
<rect x="174.2" y="83.6" width="10" height="23.2" fill="#333a40"/>
<rect x="174.2" y="83.6" width="10" height="4.5" fill="#2c6a94"/>
<rect x="174.2" y="118" width="10" height="10" fill="#333a40"/>
<rect x="193.1" y="83.6" width="10" height="23.2" fill="#333a40"/>
<rect x="193.1" y="83.6" width="10" height="4.5" fill="#2c6a94"/>
<rect x="193.1" y="118" width="10" height="10" fill="#333a40"/>
<rect x="212.2" y="83.6" width="10" height="23.2" fill="#333a40"/>
<rect x="212.2" y="83.6" width="10" height="4.5" fill="#2c6a94"/>
<rect x="212.2" y="118" width="10" height="10" fill="#333a40"/>
<rect x="231.0" y="83.6" width="10" height="23.2" fill="#333a40"/>
<rect x="231.0" y="83.6" width="10" height="4.5" fill="#2c6a94"/>
<rect x="231.0" y="118" width="10" height="10" fill="#333a40"/>
<rect x="249.7" y="83.6" width="10" height="23.2" fill="#333a40"/>
<rect x="249.7" y="83.6" width="10" height="4.5" fill="#2c6a94"/>
<rect x="249.7" y="118" width="10" height="10" fill="#333a40"/>
<rect x="139.8" y="118" width="23" height="10" fill="#333a40"/>
<rect x="139.8" y="136.5" width="17.5" height="10" fill="#333a40"/>
<rect x="157.3" y="136.5" width="5.5" height="10" fill="#c4c4bc"/>
<rect x="174.2" y="136.5" width="10" height="10" fill="#2d5f86"/>
<rect x="175.2" y="137.5" width="8" height="8" fill="#c4c4bc"/>
<rect x="193.1" y="136.5" width="10" height="10" fill="#2d5f86"/>
<rect x="194.1" y="137.5" width="8" height="8" fill="#c4c4bc"/>
<rect x="212.2" y="136.5" width="10" height="10" fill="#2d5f86"/>
<rect x="213.2" y="137.5" width="8" height="8" fill="#c4c4bc"/>
<rect x="231.0" y="136.5" width="10" height="10" fill="#333a40"/>
<rect x="231.0" y="136.5" width="4" height="10" fill="#c4c4bc"/>
<rect x="249.7" y="136.5" width="10" height="10" fill="#333a40"/>
<rect x="139.8" y="156" width="17.5" height="10" fill="#333a40"/>
<rect x="157.3" y="156" width="5.5" height="10" fill="#c4c4bc"/>
<rect x="174.2" y="156" width="10" height="10" fill="#2d5f86"/>
<rect x="175.2" y="157" width="8" height="8" fill="#c4c4bc"/>
<rect x="193.1" y="156" width="10" height="10" fill="#2d5f86"/>
<rect x="194.1" y="157" width="8" height="8" fill="#c4c4bc"/>
<rect x="212.2" y="156" width="10" height="10" fill="#2d5f86"/>
<rect x="213.2" y="157" width="8" height="8" fill="#c4c4bc"/>
<rect x="231.0" y="156" width="10" height="10" fill="#333a40"/>
<rect x="231.0" y="156" width="4" height="10" fill="#c4c4bc"/>
<rect x="249.7" y="156" width="10" height="10" fill="#333a40"/>
<rect x="174.2" y="176.5" width="10" height="21.5" fill="#333a40"/>
<rect x="174.2" y="176.5" width="10" height="9.5" fill="#c4c4bc"/>
<rect x="174.2" y="194" width="10" height="4" fill="#2c6a94"/>
<rect x="193.1" y="176.5" width="10" height="21.5" fill="#333a40"/>
<rect x="193.1" y="176.5" width="10" height="9.5" fill="#c4c4bc"/>
<rect x="193.1" y="194" width="10" height="4" fill="#2c6a94"/>
<rect x="212.2" y="176.5" width="10" height="21.5" fill="#333a40"/>
<rect x="212.2" y="176.5" width="10" height="9.5" fill="#c4c4bc"/>
<rect x="212.2" y="194" width="10" height="4" fill="#2c6a94"/>
<rect x="231.0" y="176.5" width="10" height="21.5" fill="#333a40"/>
<rect x="231.0" y="176.5" width="4" height="9.5" fill="#c4c4bc"/>
<rect x="231.0" y="194" width="10" height="4" fill="#2c6a94"/>
<rect x="249.7" y="176.5" width="10" height="21.5" fill="#333a40"/>
<rect x="249.7" y="194" width="10" height="4" fill="#2c6a94"/>
<path d="M141.3 169.3 V198 H283" fill="none" stroke="#e8f4fb" stroke-width="1.3" stroke-dasharray="none"/>
<clipPath id="sclip"><rect x="138.6" y="82.2" width="145.6" height="118.3"/></clipPath>
<g style="mix-blend-mode:lighten" opacity="0.9"><text transform="translate(41.6 324.2) rotate(-39.5)" font-family="Liberation Serif" font-size="34" fill="#cfcfcf">www.microdigisoft.com</text></g>
<g clip-path="url(#sclip)" opacity="0.72"><text transform="translate(41.6 324.2) rotate(-39.5)" font-family="Liberation Serif" font-size="34" fill="#f4fbff">www.microdigisoft.com</text></g>
<path d="M377.5 106.3 L448.3 106.3" stroke="#c4dcf2" stroke-width="14" stroke-linecap="round" opacity="0.6"/>
<circle cx="377.5" cy="106.3" r="7.8" fill="#8fe08f" opacity="0.6"/>
<circle cx="448.3" cy="106.3" r="7.8" fill="#8fe08f" opacity="0.6"/>
<path d="M377.5 106.3 L448.3 106.3" fill="none" stroke="#22559f" stroke-width="10" stroke-linecap="round" stroke-linejoin="round"/>
<path d="M377.5 106.3 L448.3 106.3" fill="none" stroke="#4088d6" stroke-width="6.4" stroke-linecap="round" stroke-linejoin="round"/>
<circle cx="379.5" cy="106.3" r="3.8" fill="#3da0b8"/><circle cx="446.5" cy="106.3" r="3.8" fill="#3da0b8"/>
<circle cx="330.2" cy="153.4" r="7.8" fill="#8fe08f" opacity="0.6"/>
<path d="M330.2 153.4 L919.9 153.4 L929.5 270.6" fill="none" stroke="#050505" stroke-width="9.5" stroke-linecap="round" stroke-linejoin="round"/>
<path d="M330.2 153.4 L919.9 153.4 L929.5 270.6" fill="none" stroke="#3e3e3e" stroke-width="5.2" stroke-linecap="round" stroke-linejoin="round"/>
<circle cx="919.9" cy="153.4" r="5.2" fill="#141414"/>
<circle cx="332" cy="153.4" r="3.6" fill="#2a5e2a"/>
<circle cx="929.5" cy="270.6" r="5.4" fill="none" stroke="#3a9a3a" stroke-width="1.8"/><circle cx="929.5" cy="270.6" r="3.4" fill="#2f6f2f"/>
<path d="M330.2 177 L472 177" stroke="#f2cccc" stroke-width="14" stroke-linecap="round" opacity="0.5"/>
<circle cx="472" cy="177" r="7.8" fill="#8fe08f" opacity="0.5"/>
<path d="M330.2 177.2 L472 177.2" fill="none" stroke="#7e0a0a" stroke-width="10.2" stroke-linecap="round" stroke-linejoin="round"/>
<path d="M330.2 177.2 L472 177.2" fill="none" stroke="#cc1616" stroke-width="6.6" stroke-linecap="round" stroke-linejoin="round"/>
<circle cx="332.5" cy="177.2" r="4" fill="#a85020"/><circle cx="470" cy="177.2" r="4" fill="#a85020"/>
<circle cx="472" cy="672.7" r="7.8" fill="#8fe08f" opacity="0.5"/>
<path d="M797.7 630.6 L802.4 672.8 L472 672.8" fill="none" stroke="#850c0c" stroke-width="9.6" stroke-linecap="round" stroke-linejoin="round"/>
<path d="M797.7 630.6 L802.4 672.8 L472 672.8" fill="none" stroke="#c81414" stroke-width="6.4" stroke-linecap="round" stroke-linejoin="round"/>
<circle cx="802.4" cy="672.8" r="4.6" fill="#a00e0e"/>
<circle cx="474" cy="672.8" r="4" fill="#a85020"/>
<circle cx="797.7" cy="630.6" r="5.6" fill="none" stroke="#9a6018" stroke-width="1.8"/><circle cx="797.7" cy="630.6" r="3.8" fill="#b05a1a"/>
<circle cx="448.3" cy="696.6" r="7.8" fill="#8fe08f" opacity="0.5"/>
<path d="M816.5 630.6 L825.8 696.3 L448.3 696.6" fill="none" stroke="#2a5cb0" stroke-width="9.6" stroke-linecap="round" stroke-linejoin="round"/>
<path d="M816.5 630.6 L825.8 696.3 L448.3 696.6" fill="none" stroke="#3c84da" stroke-width="6.4" stroke-linecap="round" stroke-linejoin="round"/>
<circle cx="825.8" cy="696.3" r="4.6" fill="#2a62c0"/>
<circle cx="450.5" cy="696.6" r="4" fill="#3aa4b4"/>
<circle cx="816.5" cy="630.6" r="5.6" fill="none" stroke="#2a9a90" stroke-width="1.8"/><circle cx="816.5" cy="630.6" r="3.8" fill="#3aa8a8"/>
<g fill="none" stroke="#8a8a8a" stroke-width="4" stroke-linecap="round" stroke-linejoin="round">
<path d="M879.9 851.7 V831 Q879.9 825.2 885.5 825.2 H887.9 M873.8 834.5 H886.7"/>
<path d="M894.9 848 V834.5 M894.9 842 Q897 834.5 905 834.5"/>
<circle cx="894.9" cy="851.5" r="3.4" stroke-width="3"/>
<path d="M911.3 834.5 H915.6 V851.7"/><circle cx="915.6" cy="825.5" r="3.6" stroke-width="3"/>
<path d="M929.7 824.4 V847 Q929.7 851.7 934 851.7 H936.3 M924.2 834.5 H937.5"/>
<path d="M943.3 834.5 H959.6 L943.3 851.5 H956.5"/><circle cx="960" cy="851.3" r="3.4" stroke-width="3"/>
<path d="M967.4 834.5 H971.7 V851.7"/><circle cx="971.7" cy="825.2" r="3.6" stroke-width="3"/>
<path d="M983.5 851.7 V834.5 M983.5 841 Q985 834.5 990.5 834.5 Q997.1 834.5 997.1 841 V847.9"/><circle cx="997.1" cy="851.3" r="3.4" stroke-width="3"/>
<path d="M1016 834.5 Q1008 834.5 1008 843 Q1008 851.7 1016 851.7 Q1026 851.7 1026 843 Q1026 834.5 1016 834.5 M1026 836 V856 Q1026 861 1020 861 H1009"/>
</g>
<rect x="0" y="862" width="1024" height="2" fill="#111111"/>
</svg></body></html>
